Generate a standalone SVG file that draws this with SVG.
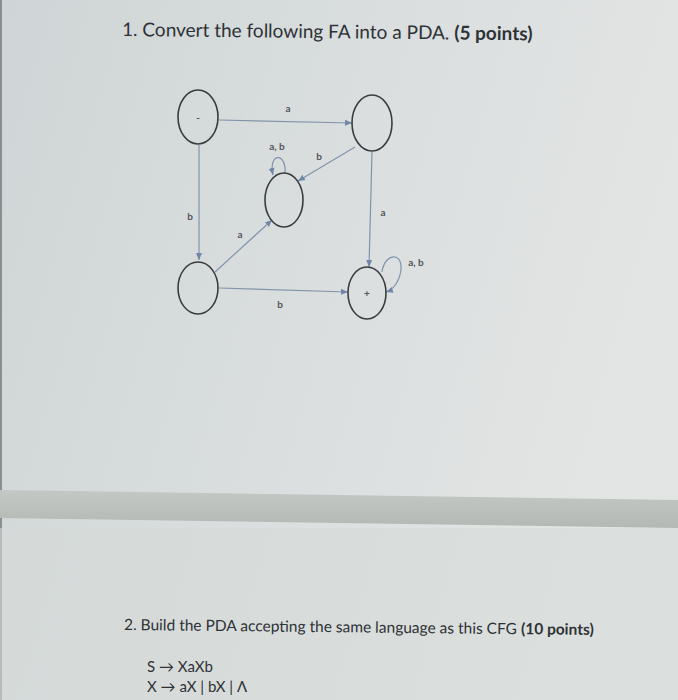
<svg xmlns="http://www.w3.org/2000/svg" width="678" height="700" viewBox="0 0 678 700">
<defs>
<linearGradient id="bg" x1="0" y1="0" x2="1" y2="0.3">
<stop offset="0" stop-color="#cfd5d6"/>
<stop offset="0.6" stop-color="#dbdfdf"/>
<stop offset="1" stop-color="#e3e5e4"/>
</linearGradient>
<linearGradient id="band" x1="0" y1="0" x2="0" y2="1">
<stop offset="0" stop-color="#c4c8c4"/>
<stop offset="1" stop-color="#b4b8b4"/>
</linearGradient>
<marker id="ah" markerWidth="8" markerHeight="8" refX="7" refY="4" orient="auto" markerUnits="userSpaceOnUse">
<path d="M0,1 L7,4 L0,7 z" fill="#7088a6"/>
</marker>
<style>
.st{fill:none;stroke:#3a3d40;stroke-width:1.6}
.ed{fill:none;stroke:#8294ac;stroke-width:1.2;marker-end:url(#ah)}
.lb{font-family:Lato,"Open Sans",sans-serif;font-size:10px;font-weight:bold;fill:#50565c;text-anchor:middle}
.tx{font-family:Lato,"Open Sans",sans-serif;fill:#2e3236}
</style>
</defs>
<rect width="678" height="700" fill="url(#bg)"/>
<rect x="0" y="0" width="2" height="700" fill="#8a8e8e"/>
<polygon points="0,490 678,500 678,528 0,518" fill="url(#band)"/>
<rect x="0" y="528" width="678" height="172" fill="#d6dad9" opacity="0.6"/>

<text class="tx" x="122" y="36" font-size="19" transform="rotate(0.6 122 36)">1. Convert the following FA into a PDA. <tspan font-weight="bold">(5 points)</tspan></text>

<g id="connectors">
<line class="ed" x1="219" y1="120" x2="352" y2="123"/>
<line class="ed" x1="199" y1="145" x2="199" y2="260"/>
<line class="ed" x1="355" y1="147" x2="298" y2="181"/>
<line class="ed" x1="215" y1="272" x2="272" y2="220"/>
<line class="ed" x1="372" y1="152" x2="369" y2="267"/>
<line class="ed" x1="219" y1="288" x2="348" y2="292"/>
<path class="ed" d="M285,174 C287,152 268,152 273,175"/>
<path class="ed" d="M382,272 C385,250 408,252 399,278 C396,286 392,290 386,292"/>
<text class="lb" x="288" y="112">a</text>
<text class="lb" x="190" y="220">b</text>
<text class="lb" x="319" y="160">b</text>
<text class="lb" x="240" y="238">a</text>
<text class="lb" x="383" y="216">a</text>
<text class="lb" x="280" y="308">b</text>
<text class="lb" x="277" y="150">a, b</text>
<text class="lb" x="416" y="266">a, b</text>
</g>

<g id="q0"><ellipse class="st" cx="198" cy="117" rx="20" ry="27"/><text class="lb" x="198" y="121">-</text></g>
<g id="q1"><ellipse class="st" cx="372" cy="123" rx="20" ry="28"/></g>
<g id="q2"><ellipse class="st" cx="284" cy="200" rx="19" ry="27"/></g>
<g id="q3"><ellipse class="st" cx="198" cy="288" rx="20" ry="26"/></g>
<g id="q4"><ellipse class="st" cx="367" cy="293" rx="19" ry="26"/><text class="lb" x="367" y="297">+</text></g>

<text class="tx" x="124" y="630" font-size="15.5" transform="rotate(0.6 124 630)">2. Build the PDA accepting the same language as this CFG <tspan font-weight="bold">(10 points)</tspan></text>
<text class="tx" x="147" y="672" font-size="15">S → XaXb</text>
<text class="tx" x="147" y="692" font-size="15">X → aX | bX | Λ</text>
</svg>
